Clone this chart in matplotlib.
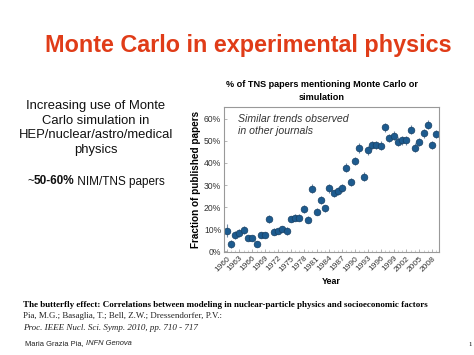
import matplotlib
matplotlib.use("Agg")
import matplotlib.pyplot as plt
from matplotlib.ticker import MultipleLocator

years = list(range(1960, 2010))
fraction = [9.3, 3.5, 7.5, 8.4, 9.6, 6.2, 5.9, 3.3, 7.4, 7.4,
            14.6, 8.9, 9.0, 10.1, 9.2, 14.6, 15.3, 15.3, 19.1, 14.3,
            28.3, 18.0, 23.3, 19.4, 28.6, 26.2, 27.2, 28.7, 37.9, 31.3,
            40.9, 46.6, 33.8, 45.7, 48.1, 48.1, 47.7, 56.2, 51.3, 52.3,
            49.6, 50.2, 50.2, 55.0, 46.8, 49.5, 53.5, 57.3, 48.0, 53.1]
errors = [3.0, 1.8, 1.8, 1.8, 1.8, 1.2, 1.2, 1.2, 1.5, 1.2,
          1.8, 1.5, 1.2, 1.5, 1.8, 1.5, 1.5, 1.5, 1.8, 1.5,
          2.0, 1.5, 1.8, 1.5, 2.0, 1.5, 1.8, 1.8, 2.0, 1.8,
          2.0, 2.2, 2.0, 2.0, 2.0, 2.0, 2.0, 2.0, 2.0, 2.0,
          2.0, 2.0, 2.0, 2.0, 2.0, 2.0, 2.0, 2.0, 1.8, 1.8]
xtick_years = list(range(1960, 2009, 3))
ytick_vals = [0, 10, 20, 30, 40, 50, 60]

W, H = 474, 355
fig = plt.figure(figsize=(4.74, 3.55), dpi=100)
fig.patch.set_facecolor("white")

def fx(px):
    return px / W

def fy(py):
    return 1 - py / H

# Slide title
fig.text(fx(248), fy(45.5), "Monte Carlo in experimental physics", ha="center", va="center",
         fontsize=16.8, fontweight="bold", color="#e03c18", family="Liberation Sans")

# Left text
fig.text(fx(96), fy(128), "Increasing use of Monte\nCarlo simulation in\nHEP/nuclear/astro/medical\nphysics",
         ha="center", va="center", fontsize=9.4, family="Liberation Sans",
         linespacing=1.3, color="#111111")

renderer = fig.canvas.get_renderer()
parts = [("~", "normal"), ("50-60%", "bold"), (" NIM/TNS papers", "normal")]
xpos = fx(27)
for txt, wt in parts:
    t = fig.text(xpos, fy(181.5), txt, ha="left", va="center", fontsize=8.5,
                 family="Liberation Sans", fontweight=wt, color="#111111")
    bb = t.get_window_extent(renderer=renderer)
    xpos += bb.width / W

# Chart
ax = fig.add_axes([fx(224), fy(252), fx(439 - 224), (252 - 107) / H])
ax.errorbar(years, fraction, yerr=errors, fmt="o", color="#1d5b8f",
            markersize=4.8, markeredgecolor="#173f63", markeredgewidth=0.5,
            ecolor="#6f8aa5", elinewidth=0.8, capsize=0)
ax.set_xlim(1959.4, 2009.6)
ax.set_ylim(-0.3, 65.3)
ax.set_xticks(xtick_years)
ax.set_xticklabels([str(y) for y in xtick_years], rotation=45, ha="right",
                   rotation_mode="anchor", fontsize=6, family="Liberation Sans", color="#333333")
ax.xaxis.set_minor_locator(MultipleLocator(1))
ax.set_yticks(ytick_vals)
ax.set_yticklabels([f"{v}%" for v in ytick_vals], fontsize=6.2, family="Liberation Sans", color="#333333")
ax.tick_params(axis="both", which="major", direction="in", length=2.5, width=0.5, color="#999999", pad=2)
ax.tick_params(axis="x", which="minor", direction="in", length=1.5, width=0.4, color="#aaaaaa")
for s in ax.spines.values():
    s.set_color("#999999")
    s.set_linewidth(0.8)
ax.set_xlabel("Year", fontsize=6.4, fontweight="bold", family="Liberation Sans", labelpad=3)
ax.set_ylabel("Fraction of published papers", fontsize=7.2, fontweight="bold",
              family="Liberation Sans", labelpad=2)
fig.text(fx(322), fy(91), "% of TNS papers mentioning Monte Carlo or\nsimulation", ha="center",
         va="center", fontsize=6.6, fontweight="bold", family="Liberation Sans", linespacing=1.45)
ax.text(fx(238 - 224) / fx(215), 1 - (114 - 107) / 145, "Similar trends observed\nin other journals",
        transform=ax.transAxes, ha="left", va="top", fontsize=7.6, style="italic",
        family="Liberation Sans", color="#333333", linespacing=1.3)

# Reference text
fig.text(fx(23), fy(305), "The butterfly effect: Correlations between modeling in nuclear-particle physics and socioeconomic factors",
         ha="left", va="center", fontsize=6.5, fontweight="bold", family="Liberation Serif")
fig.text(fx(23), fy(316), "Pia, M.G.; Basaglia, T.; Bell, Z.W.; Dressendorfer, P.V.:",
         ha="left", va="center", fontsize=6.4, family="Liberation Serif", color="#222222")
fig.text(fx(23), fy(327.5), "Proc. IEEE Nucl. Sci. Symp. 2010, pp. 710 - 717",
         ha="left", va="center", fontsize=6.5, style="italic", family="Liberation Serif", color="#222222")
t = fig.text(fx(25), fy(343.5), "Maria Grazia Pia, ", ha="left", va="center", fontsize=5.4,
             family="Liberation Sans", color="#222222")
bb = t.get_window_extent(renderer=renderer)
fig.text(fx(25) + bb.width / W, fy(343.5), "INFN Genova", ha="left", va="center", fontsize=5.4,
         family="Liberation Sans", style="italic", color="#222222")
fig.text(fx(470), fy(344), "1", ha="center", va="center", fontsize=5, family="Liberation Serif")

fig.savefig("out.png", dpi=100)
